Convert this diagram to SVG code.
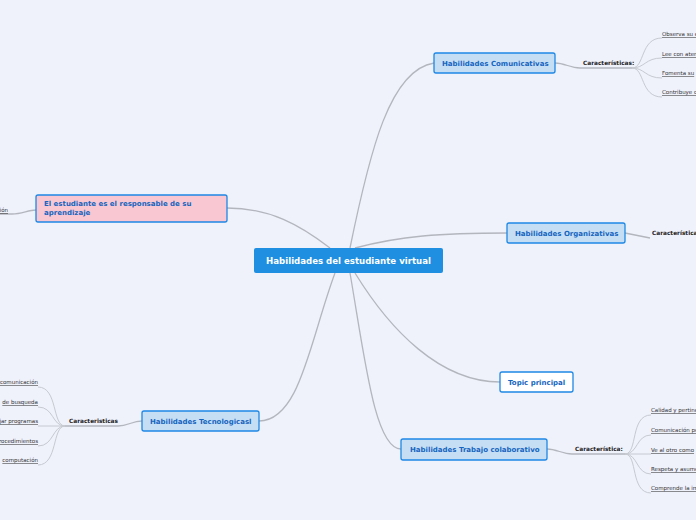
<svg xmlns="http://www.w3.org/2000/svg" width="696" height="520" viewBox="0 0 696 520">
<style>
text{font-family:"DejaVu Sans",Verdana,sans-serif}
.c{fill:none;stroke:#b4b6be;stroke-width:1.3}
.s{fill:none;stroke:#c8cad2;stroke-width:1}
.n{fill:#c6def4;stroke:#1e88e5;stroke-width:1.3}
.nt{font-size:7px;font-weight:bold;fill:#1565c0}
.lb{font-size:5.8px;font-weight:bold;fill:#222}
.it{font-size:5.5px;fill:#333;text-decoration:underline}
</style>
<rect width="696" height="520" fill="#eff1fb"/>
<g id="connectors">
<path class="c" d="M350,248 C370,150 390,70 434,63"/>
<path class="c" d="M355,248 C400,236 440,233 507,233"/>
<path class="c" d="M355,273 C390,330 440,382 500,382"/>
<path class="c" d="M350,273 C365,360 375,449 401,449"/>
<path class="c" d="M335,273 C310,340 300,421 259,421"/>
<path class="c" d="M330,248 C300,225 270,208 227,208"/>
<path class="c" d="M555,63 C565,63 570,68 580,68 L632,68"/>
<path class="c" d="M625,233 L650,238"/>
<path class="c" d="M547,449 C557,449 562,454 572,454 L625,454"/>
<path class="c" d="M142,421 C132,421 128,426 118,426 L65,426"/>
<path class="c" d="M36,210 C28,210 22,214 12,214 L0,214"/>
<path class="s" d="M632,68 C645,68 640,38 662,38 M632,68 C645,68 645,58 662,58 M632,68 C645,68 645,78 662,78 M632,68 C645,68 640,97 662,97"/>
<path class="s" d="M625,454 C638,454 630,415 651,415 M625,454 C638,454 636,435 651,435 M625,454 L651,454 M625,454 C638,454 636,474 651,474 M625,454 C638,454 630,493 651,493"/>
<path class="s" d="M65,426 C52,426 58,387 38,387 M65,426 C52,426 54,407 38,407 M65,426 L38,426 M65,426 C52,426 54,446 38,446 M65,426 C52,426 58,465 38,465"/>
</g>
<g id="center"><rect x="254" y="248" width="189" height="25" rx="2" fill="#1e8fe1"/><text x="348.5" y="264" text-anchor="middle" font-size="8.6" font-weight="bold" fill="#fff">Habilidades del estudiante virtual</text></g>
<g id="comunicativas"><rect class="n" x="434" y="53" width="121" height="20" rx="2"/><text class="nt" x="442" y="66">Habilidades Comunicativas</text></g>
<g id="car1"><text class="lb" x="583" y="65">Características:</text>
<text class="it" x="662" y="36">Observa su e</text><text class="it" x="662" y="56">Lee con aten</text><text class="it" x="662" y="75">Fomenta su</text><text class="it" x="662" y="94">Contribuye c</text></g>
<g id="organizativas"><rect class="n" x="507" y="223" width="118" height="20" rx="2"/><text class="nt" x="515" y="236">Habilidades Organizativas</text><text class="lb" x="652" y="235">Características</text></g>
<g id="topic"><rect x="500" y="372" width="73" height="20" rx="2" fill="#fff" stroke="#1e88e5" stroke-width="1.3"/><text class="nt" x="508" y="385">Topic principal</text></g>
<g id="colaborativo"><rect class="n" x="401" y="439" width="146" height="21" rx="2"/><text class="nt" x="410" y="452">Habilidades Trabajo colaborativo</text>
<text class="lb" x="575" y="451">Característica:</text>
<text class="it" x="651" y="412">Calidad y pertine</text><text class="it" x="651" y="432">Comunicación pe</text><text class="it" x="651" y="452">Ve al otro como</text><text class="it" x="651" y="471">Respeta y asume</text><text class="it" x="651" y="490">Comprende la im</text></g>
<g id="tecnologicas"><rect class="n" x="142" y="411" width="117" height="20" rx="2"/><text class="nt" x="150" y="424">Habilidades Tecnologicasl</text>
<text class="lb" x="69" y="423">Caracteristicas</text>
<g text-anchor="end"><text class="it" x="38" y="384">comunicación</text><text class="it" x="38" y="404">de busqueda</text><text class="it" x="38" y="423">jar programas</text><text class="it" x="38" y="443">rocedimientos</text><text class="it" x="38" y="462">computación</text></g></g>
<g id="responsable"><rect x="36" y="195" width="191" height="27" rx="2" fill="#f9c7d1" stroke="#1e88e5" stroke-width="1.3"/><text class="nt" x="44" y="206">El estudiante es el responsable de su</text><text class="nt" x="44" y="215">aprendizaje</text><text class="it" x="8" y="212" text-anchor="end">ión</text></g>
</svg>
